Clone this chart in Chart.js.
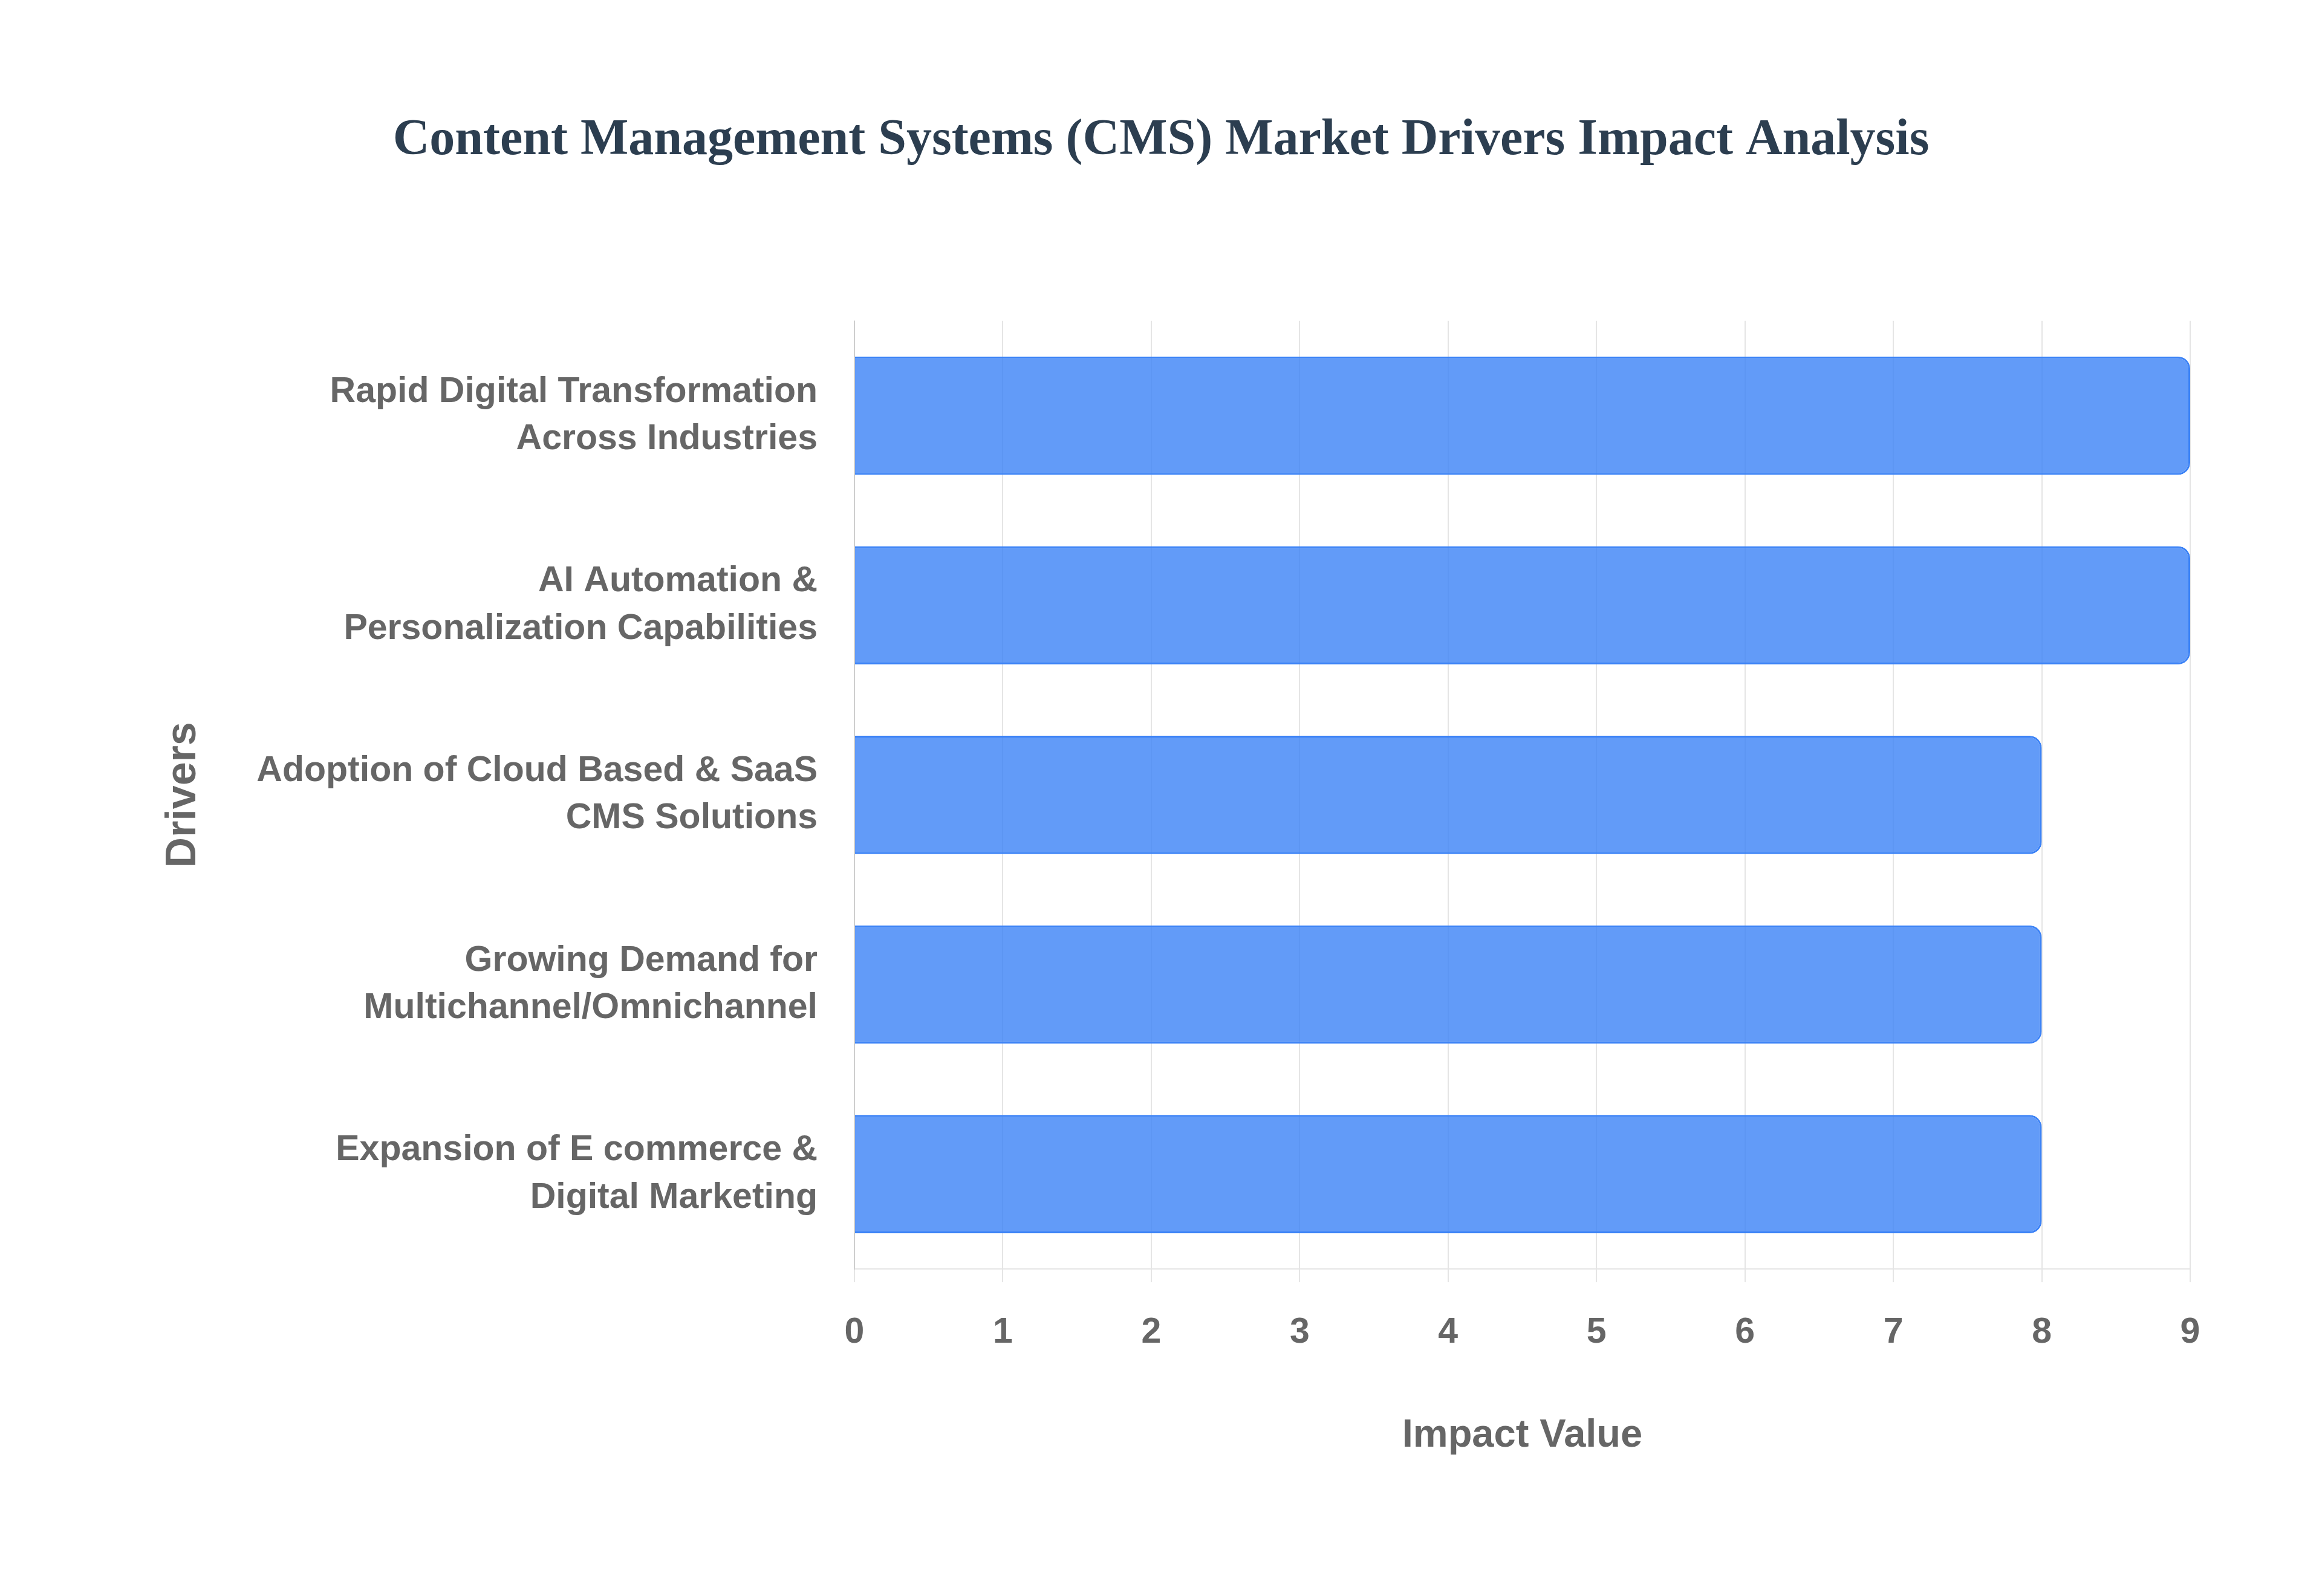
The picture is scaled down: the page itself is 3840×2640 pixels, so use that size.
<!DOCTYPE html>
<html>
<head>
<meta charset="utf-8">
<script src="https://cdn.jsdelivr.net/npm/chart.js@4"></script>
<style>
    html, body { margin: 0; padding: 0; background: #ffffff; }
    #wrap { width: 3840px; height: 2640px; }
</style>
</head>
<body>
<div id="wrap"><canvas id="chart"></canvas></div>
<script>
// Drivers, top to bottom
const driverLabels = [
    ['Rapid Digital Transformation', 'Across Industries'],
    ['AI Automation &', 'Personalization Capabilities'],
    ['Adoption of Cloud Based & SaaS', 'CMS Solutions'],
    ['Growing Demand for', 'Multichannel/Omnichannel'],
    ['Expansion of E commerce &', 'Digital Marketing']
];
const impactValues = [9, 9, 8, 8, 8];
const impactTicks = [0, 1, 2, 3, 4, 5, 6, 7, 8, 9];

const chartTitle = 'Content Management Systems (CMS) Market Drivers Impact Analysis';

const sansFont = "'Liberation Sans', Arial, Helvetica, sans-serif";
const axisGrey = '#666666';
const gridGrey = 'rgba(0, 0, 0, 0.1)';

const ctx = document.getElementById('chart').getContext('2d');

new Chart(ctx, {
    type: 'bar',
    data: {
        labels: driverLabels,
        datasets: [{
            label: 'Impact Value',
            data: impactValues,
            backgroundColor: 'rgba(59, 130, 246, 0.8)',
            borderColor: '#3b82f6',
            borderWidth: 3,
            borderRadius: 20,
            categoryPercentage: 0.8,
            barPercentage: 0.78
        }]
    },
    options: {
        indexAxis: 'y',
        responsive: true,
        maintainAspectRatio: false,
        animation: false,
        devicePixelRatio: 1,
        // equal side padding keeps the title centred on the page
        layout: {
            padding: { top: 0, left: 218, right: 218, bottom: 0 }
        },
        plugins: {
            legend: { display: false },
            tooltip: { enabled: false },
            title: {
                display: true,
                text: chartTitle,
                color: '#2c3e50',
                font: { family: "'Liberation Serif', 'Times New Roman', serif", size: 84, weight: 'bold' },
                padding: { top: 183, bottom: 247 }
            }
        },
        scales: {
            x: {
                min: 0,
                max: 9,
                afterBuildTicks: scale => {
                    scale.ticks = impactTicks.map(v => ({ value: v }));
                },
                afterFit: scale => { scale.height = 541; },
                grid: {
                    color: gridGrey,
                    lineWidth: 2,
                    drawTicks: true,
                    tickLength: 22
                },
                border: { display: true, color: gridGrey, width: 2 },
                ticks: {
                    color: axisGrey,
                    padding: 48,
                    font: { family: sansFont, size: 59, weight: 'bold' }
                },
                title: {
                    display: true,
                    text: 'Impact Value',
                    color: axisGrey,
                    font: { family: sansFont, size: 65, weight: 'bold' },
                    padding: { top: 0, bottom: 226 }
                }
            },
            y: {
                afterFit: scale => { scale.width = 1195; },
                grid: { display: false, drawTicks: false },
                border: { display: true, color: gridGrey, width: 2 },
                ticks: {
                    color: axisGrey,
                    padding: 61,
                    font: { family: sansFont, size: 59, weight: 'bold', lineHeight: 1.33 }
                },
                title: {
                    display: true,
                    text: 'Drivers',
                    color: axisGrey,
                    font: { family: sansFont, size: 70, weight: 'bold' },
                    padding: { top: 44, bottom: 0 }
                }
            }
        }
    }
});
</script>
</body>
</html>
